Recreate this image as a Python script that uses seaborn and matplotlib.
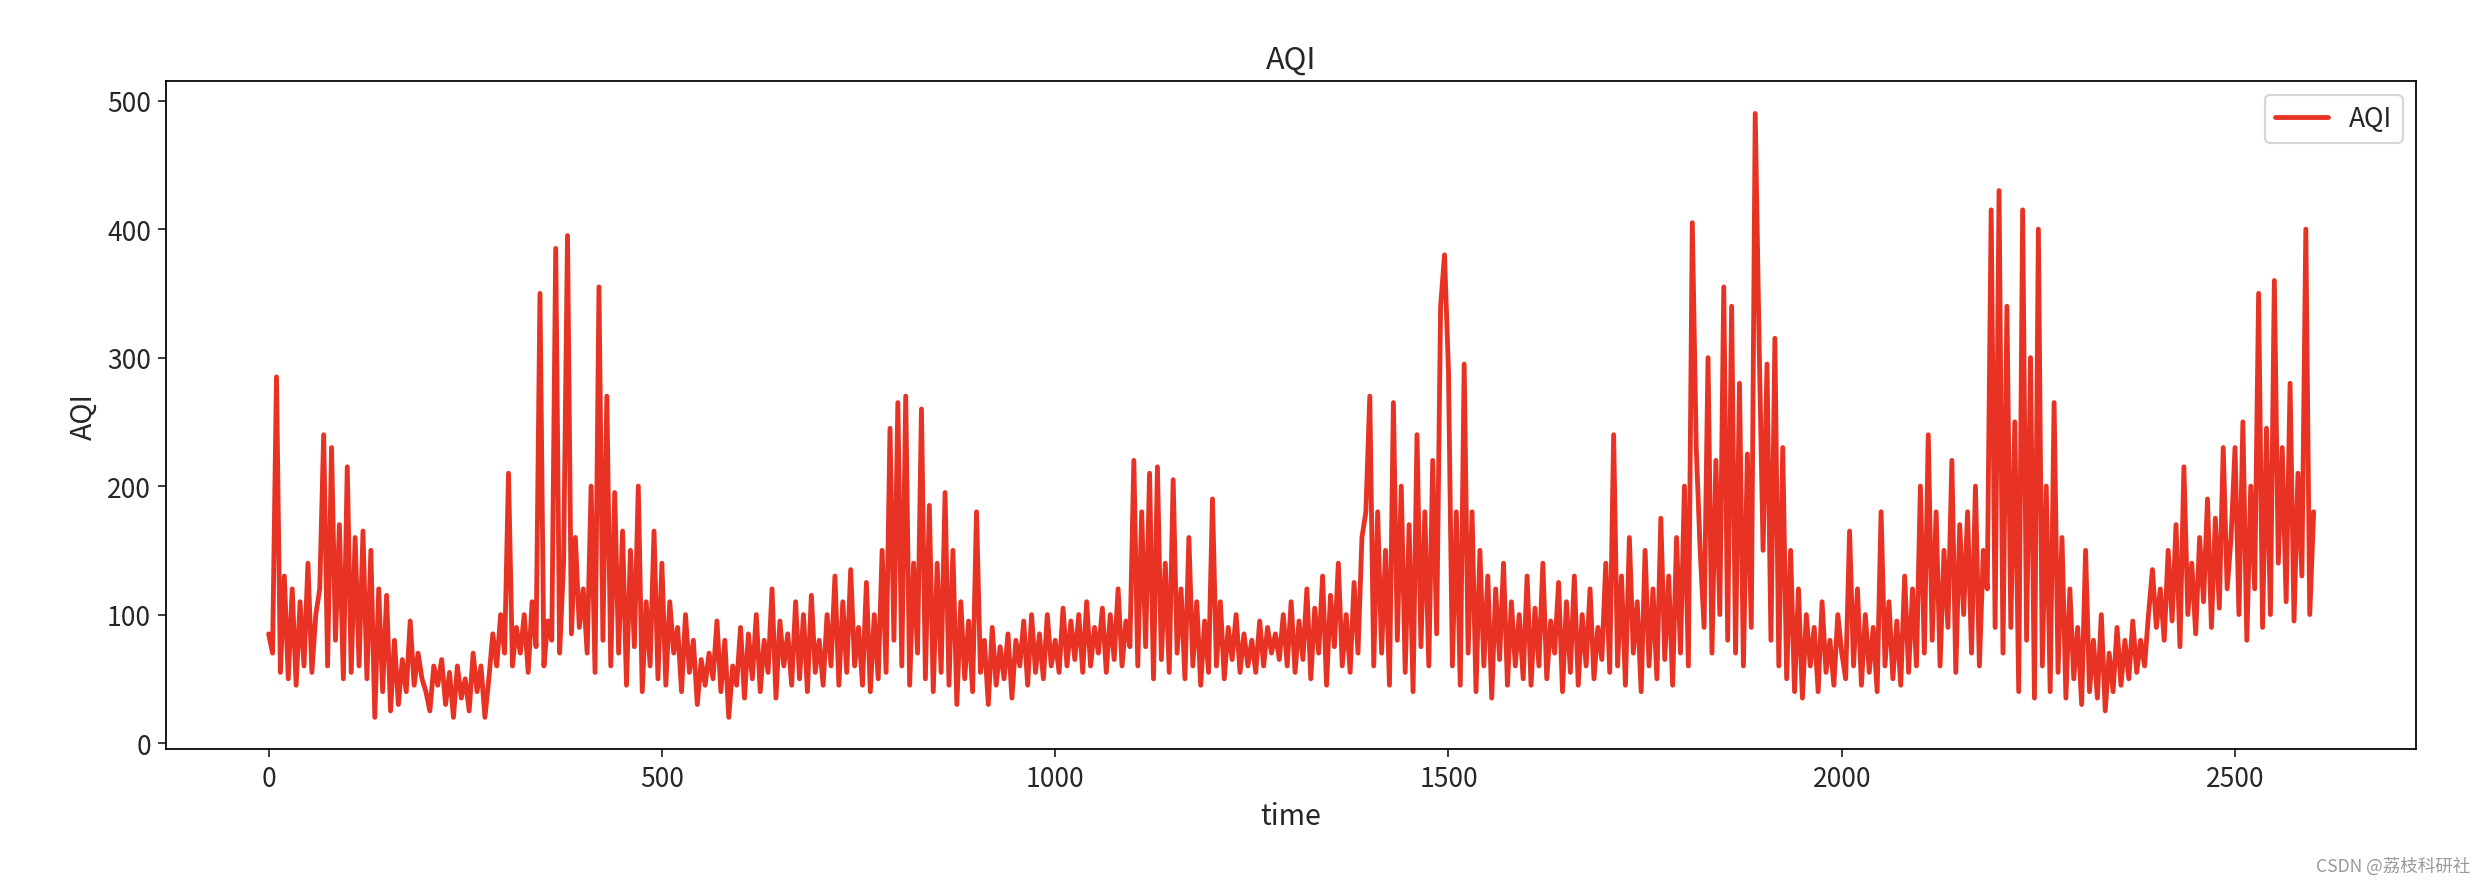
import numpy as np
import matplotlib
matplotlib.use("Agg")
import matplotlib.pyplot as plt
import seaborn as sns
import pandas as pd

step = 5
aqi = [
85,70,285,55,130,50,120,45,110,60,140,55,100,120,240,60,230,80,170,50,
215,55,160,60,165,50,150,20,120,40,115,25,80,30,65,40,95,45,70,50,
40,25,60,45,65,30,55,20,60,35,50,25,70,40,60,20,50,85,60,100,
70,210,60,90,70,100,55,110,75,350,60,95,80,385,70,140,395,85,160,90,
120,70,200,55,355,80,270,60,195,70,165,45,150,75,200,40,110,60,165,50,
140,45,110,70,90,40,100,55,80,30,65,45,70,50,95,40,80,20,60,45,
90,35,85,50,100,40,80,55,120,35,95,60,85,45,110,50,100,40,115,55,
80,45,100,60,130,45,110,55,135,60,90,45,125,40,100,50,150,55,245,80,
265,60,270,45,140,70,260,50,185,40,140,55,195,45,150,30,110,50,95,40,
180,55,80,30,90,45,75,50,85,35,80,60,95,45,100,55,85,50,100,60,
80,55,105,60,95,65,100,55,110,60,90,70,105,55,100,65,120,60,95,75,
220,60,180,75,210,50,215,65,140,55,205,70,120,50,160,60,110,45,95,55,
190,60,110,50,90,65,100,55,85,60,80,55,95,60,90,70,85,65,100,60,
110,55,95,65,120,50,105,70,130,45,115,75,140,60,100,55,125,70,160,180,
270,60,180,70,150,45,265,80,200,55,170,40,240,75,180,60,220,85,340,380,
290,60,180,45,295,70,180,40,150,60,130,35,120,65,140,45,110,60,100,50,
130,45,105,60,140,50,95,70,125,40,110,55,130,45,100,60,120,50,90,65,
140,55,240,60,130,45,160,70,110,40,150,60,120,50,175,65,130,45,160,70,
200,60,405,230,150,90,300,70,220,100,355,80,340,70,280,60,225,90,490,310,
150,295,80,315,60,230,50,150,40,120,35,100,60,90,40,110,55,80,45,100,
70,50,165,60,120,45,100,55,90,40,180,60,110,50,95,45,130,55,120,60,
200,70,240,80,180,60,150,90,220,55,170,100,180,70,200,60,150,120,415,90,
430,70,340,90,250,40,415,80,300,35,400,60,200,40,265,55,160,35,120,50,
90,30,150,40,80,35,100,25,70,40,90,45,80,50,95,55,80,60,100,135,
90,120,80,150,95,170,75,215,100,140,85,160,110,190,90,175,105,230,120,160,
230,100,250,80,200,120,350,90,245,100,360,140,230,110,280,95,210,130,400,100,
180,
]
time = np.arange(len(aqi)) * step
df = pd.DataFrame({"time": time, "AQI": aqi})

sns.set_style("ticks")
plt.rcParams['font.family'] = ['Noto Sans CJK SC', 'DejaVu Sans']
plt.rcParams['axes.unicode_minus'] = False

fig = plt.figure(figsize=(15.715, 5.601), dpi=158)
ax = fig.add_axes([0.067, 0.152, 0.906, 0.755])
sns.lineplot(data=df, x="time", y="AQI", ax=ax, color="#e83324", linewidth=2.2, label="AQI")
ax.set_title("AQI", fontsize=14)
ax.set_xlabel("time", fontsize=13)
ax.set_ylabel("AQI", fontsize=13)
ax.set_xticks([0, 500, 1000, 1500, 2000, 2500])
ax.set_yticks([0, 100, 200, 300, 400, 500])
ax.tick_params(labelsize=12)
ax.set_xlim(-130, 2730)
ax.set_ylim(-5, 515)
for s in ax.spines.values():
    s.set_color("black")
ax.legend(loc="upper right", fontsize=12)
fig.text(0.995, 0.01, "CSDN @荔枝科研社", ha="right", va="bottom", fontsize=8, color="#999999")
fig.savefig("out.png", dpi=158)
